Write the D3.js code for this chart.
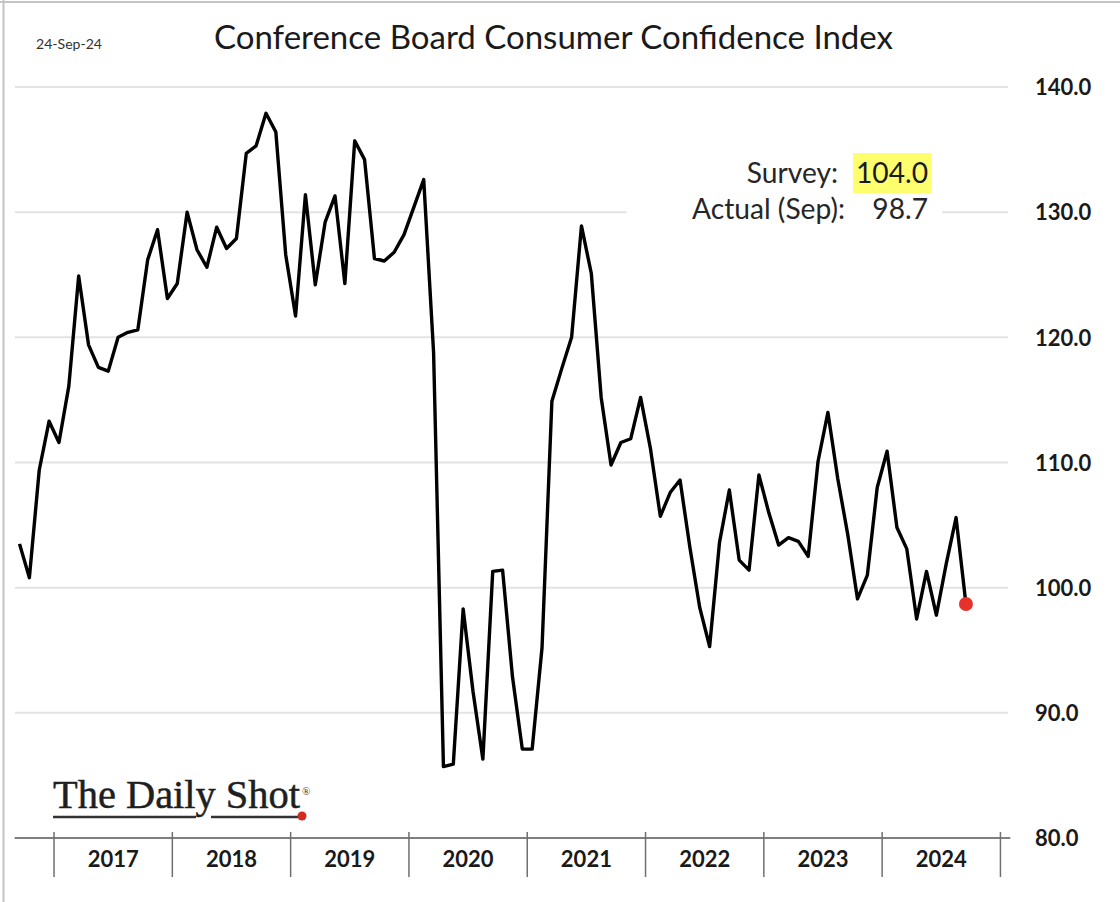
<!DOCTYPE html>
<html>
<head>
<meta charset="utf-8">
<script src="https://cdn.jsdelivr.net/npm/d3@7"></script>
<style>
  html, body { margin: 0; padding: 0; background: #fff; }
  svg { display: block; }
</style>
</head>
<body>
<svg id="chart" width="1120" height="902"></svg>
<script>
// ---------------- DATA ----------------
const startYear = 2016;
const startMonth = 9; // September 2016
const values = [
  103.5, 100.8, 109.4, 113.3,
  111.6, 116.1, 124.9, 119.4, 117.6, 117.3, 120.0, 120.4, 120.6, 126.2, 128.6, 123.1,
  124.3, 130.0, 127.0, 125.6, 128.8, 127.1, 127.9, 134.7, 135.3, 137.9, 136.4, 126.6,
  121.7, 131.4, 124.2, 129.2, 131.3, 124.3, 135.7, 134.2, 126.3, 126.1, 126.8, 128.2,
  130.4, 132.6, 118.8, 85.7, 85.9, 98.3, 91.7, 86.3, 101.3, 101.4, 92.9, 87.1,
  87.1, 95.2, 114.9, 117.5, 120.0, 128.9, 125.1, 115.2, 109.8, 111.6, 111.9, 115.2,
  111.1, 105.7, 107.6, 108.6, 103.2, 98.4, 95.3, 103.6, 107.8, 102.2, 101.4, 109.0,
  106.0, 103.4, 104.0, 103.7, 102.5, 110.1, 114.0, 108.7, 104.3, 99.1, 101.0, 108.0,
  110.9, 104.8, 103.1, 97.5, 101.3, 97.8, 101.9, 105.6, 98.7
];
const yearLabels = ["2017", "2018", "2019", "2020", "2021", "2022", "2023", "2024"];
const yTicks = [80, 90, 100, 110, 120, 130, 140];
const titleText = "Conference Board Consumer Confidence Index";
const dateText = "24-Sep-24";
const surveyLabel = "Survey:";
const surveyValue = "104.0";
const actualLabel = "Actual (Sep):";
const actualValue = "98.7";

// ---------------- LAYOUT ----------------
const svg = d3.select("#chart");
const sans = "Lato, 'Open Sans', sans-serif";

svg.append("rect").attr("width", 1120).attr("height", 902).attr("fill", "#fff");
// frame
svg.append("line").attr("x1", 0).attr("x2", 1120).attr("y1", 2).attr("y2", 2)
  .attr("stroke", "#c4c4c4").attr("stroke-width", 2);
svg.append("line").attr("x1", 3.5).attr("x2", 3.5).attr("y1", 0).attr("y2", 902)
  .attr("stroke", "#c4c4c4").attr("stroke-width", 2);

const x = d3.scaleLinear().domain([-0.5, 100.5]).range([14.6, 1010.3]);
const y = d3.scaleLinear().domain([80, 140]).range([838, 87]);

function fitWidth(sel, w) {
  const len = sel.node().getComputedTextLength();
  const fs = parseFloat(sel.attr("font-size"));
  sel.attr("font-size", fs * w / len);
}

// gridlines
const grid = svg.append("g");
yTicks.filter(d => d > 80).forEach(t => {
  grid.append("line")
    .attr("x1", 15).attr("x2", 1008)
    .attr("y1", y(t)).attr("y2", y(t))
    .attr("stroke", "#e3e3e3").attr("stroke-width", 2);
});

// annotation background (covers gridline)
svg.append("rect").attr("x", 627).attr("y", 150).attr("width", 315).attr("height", 80).attr("fill", "#fff");

// y tick labels (right side)
const yAxis = d3.axisRight(y).tickValues(yTicks).tickFormat(d3.format(".1f")).tickSize(0).tickPadding(0);
const yg = svg.append("g").attr("transform", "translate(1035,0)").call(yAxis);
yg.select(".domain").remove();
yg.selectAll("text")
  .attr("font-family", sans).attr("font-weight", "bold").attr("font-size", 22)
  .attr("fill", "#1a1a1a").attr("dy", "0.35em");

// x axis line
svg.append("line").attr("x1", x(-0.5)).attr("x2", x(100.5)).attr("y1", 838).attr("y2", 838)
  .attr("stroke", "#7f7f7f").attr("stroke-width", 2);

// year boundaries ticks
const janIndex = yr => (yr - startYear) * 12 + (1 - startMonth);
const boundaries = yearLabels.map(d => +d).concat([+yearLabels[yearLabels.length - 1] + 1]);
boundaries.forEach(yr => {
  const bx = x(janIndex(yr) - 0.5);
  svg.append("line").attr("x1", bx).attr("x2", bx).attr("y1", 832).attr("y2", 877)
    .attr("stroke", "#6f6f6f").attr("stroke-width", 1.5);
});
yearLabels.forEach(lbl => {
  const yr = +lbl;
  const cx = (x(janIndex(yr) - 0.5) + x(janIndex(yr + 1) - 0.5)) / 2;
  svg.append("text").attr("x", cx).attr("y", 867)
    .attr("text-anchor", "middle")
    .attr("font-family", sans).attr("font-weight", "bold").attr("font-size", 22)
    .attr("fill", "#1a1a1a").text(lbl);
});

// series line
const line = d3.line().x((d, i) => x(i)).y(d => y(d)).curve(d3.curveLinear);
svg.append("path").datum(values).attr("d", line)
  .attr("fill", "none").attr("stroke", "#000").attr("stroke-width", 3.4)
  .attr("stroke-linejoin", "round");

// last point red dot
const li = values.length - 1;
svg.append("circle").attr("cx", x(li)).attr("cy", y(values[li])).attr("r", 7)
  .attr("fill", "#e8312a");

// title
svg.append("text").attr("x", 214).attr("y", 49)
  .attr("font-family", sans).attr("font-size", 33).attr("fill", "#1a1a1a")
  .attr("textLength", 679).attr("lengthAdjust", "spacingAndGlyphs").text(titleText);

// date
svg.append("text").attr("x", 36).attr("y", 49)
  .attr("font-family", sans).attr("font-size", 14).attr("fill", "#333")
  .attr("textLength", 66).attr("lengthAdjust", "spacingAndGlyphs").text(dateText);

// annotation
svg.append("rect").attr("x", 853).attr("y", 153).attr("width", 78).attr("height", 40)
  .attr("fill", "#ffff6e");
const annFs = 26;
const a1 = svg.append("text").attr("x", 845).attr("y", 219).attr("text-anchor", "end")
  .attr("font-family", sans).attr("font-size", annFs).attr("fill", "#262626").text(actualLabel);
fitWidth(a1, 153);
const fs = a1.attr("font-size");
svg.append("text").attr("x", 928).attr("y", 219).attr("text-anchor", "end")
  .attr("font-family", sans).attr("font-size", fs).attr("fill", "#262626").text(actualValue);
svg.append("text").attr("x", 838).attr("y", 183).attr("text-anchor", "end")
  .attr("font-family", sans).attr("font-size", fs).attr("fill", "#262626").text(surveyLabel);
svg.append("text").attr("x", 928).attr("y", 183).attr("text-anchor", "end")
  .attr("font-family", sans).attr("font-size", fs).attr("fill", "#1a1a1a").text(surveyValue);

// logo
svg.append("text").attr("x", 53).attr("y", 808)
  .attr("font-family", "'Liberation Serif', 'DejaVu Serif', serif").attr("font-size", 40)
  .attr("fill", "#1f1f1f").attr("stroke", "#1f1f1f").attr("stroke-width", 0.5)
  .attr("textLength", 247).attr("lengthAdjust", "spacingAndGlyphs").text("The Daily Shot");
svg.append("text").attr("x", 302).attr("y", 795)
  .attr("font-family", "'Liberation Serif', serif").attr("font-size", 11)
  .attr("fill", "#333").text("®");
svg.append("line").attr("x1", 53).attr("x2", 196).attr("y1", 817).attr("y2", 817)
  .attr("stroke", "#333").attr("stroke-width", 2.5);
svg.append("line").attr("x1", 211).attr("x2", 300).attr("y1", 817).attr("y2", 817)
  .attr("stroke", "#333").attr("stroke-width", 2.5);
svg.append("circle").attr("cx", 302).attr("cy", 816).attr("r", 4.5).attr("fill", "#d42a22");
</script>
</body>
</html>
